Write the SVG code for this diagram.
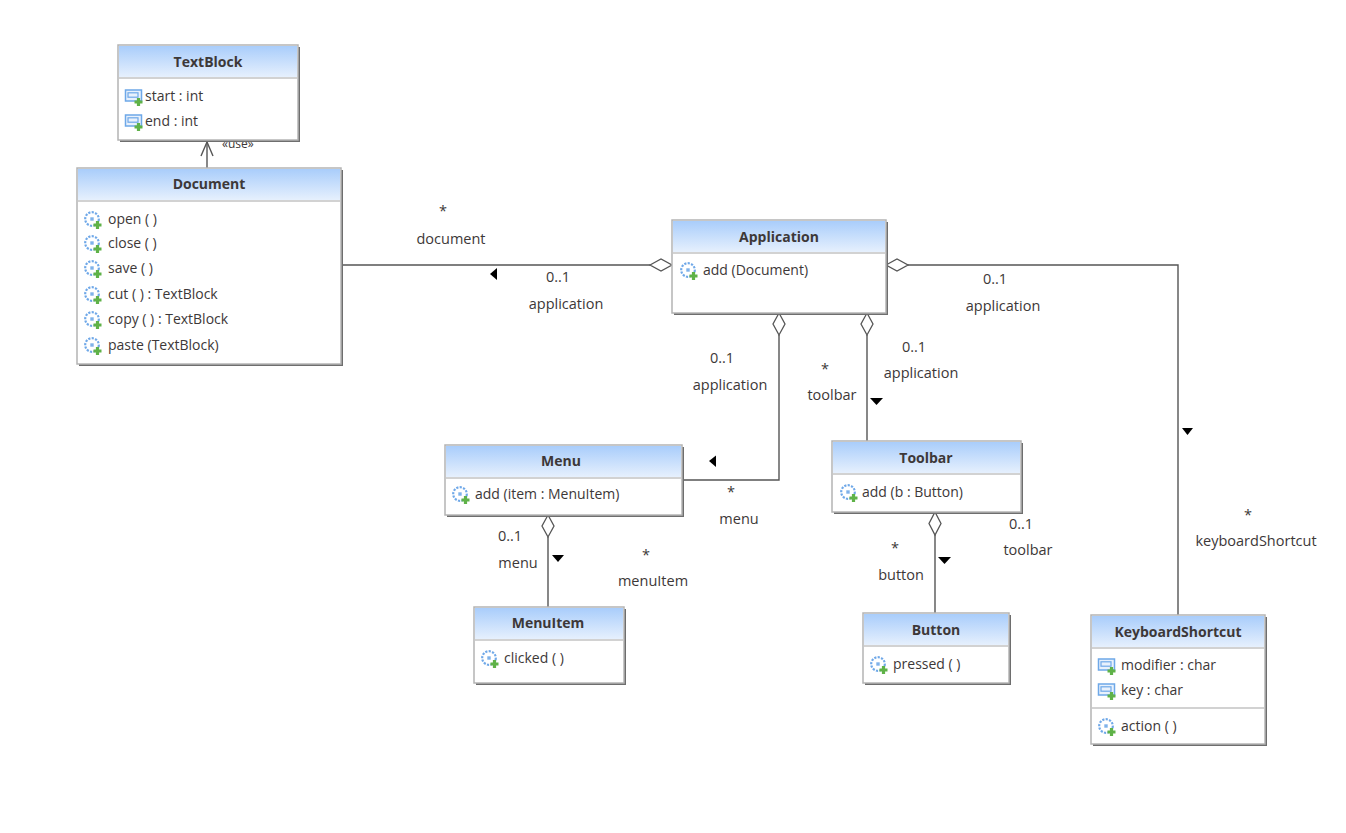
<svg xmlns="http://www.w3.org/2000/svg" width="1346" height="833" viewBox="0 0 1346 833">
<style>
.box{fill:#fff;stroke:#b4b4b4;stroke-width:1.5}
.sh{fill:#6e6e6e}
.hdr{fill:url(#hg)}
.sep{stroke:#d2d2d2;stroke-width:2}
.ttl{font-family:"Open Sans","Noto Sans",sans-serif;font-size:14px;font-weight:bold;fill:#3d3838;text-anchor:middle}
.m{font-family:"Open Sans","Noto Sans",sans-serif;font-size:14px;fill:#3d3838}
.l{font-family:"Open Sans","Noto Sans",sans-serif;font-size:14.5px;fill:#3d3838;text-anchor:middle}
.ln{fill:none;stroke:#555;stroke-width:1.4}
.dia{fill:#fff;stroke:#555;stroke-width:1.3}
.tri{fill:#000}
</style>
<defs>
<linearGradient id="hg" x1="0" y1="0" x2="0" y2="1">
<stop offset="0" stop-color="#a9cdfb"/>
<stop offset="1" stop-color="#e6f0fd"/>
</linearGradient>
<g id="op">
<circle cx="8" cy="8" r="6.8" fill="none" stroke="#6fa8e8" stroke-width="2.2" stroke-dasharray="2.2 1.3"/>
<rect x="6.3" y="6.3" width="3.4" height="3.4" fill="#7fb2ea"/>
<path d="M13.5 10v8M9.5 14h8" stroke="#5fb248" stroke-width="3.2"/>
</g>
<g id="at">
<rect x="0.5" y="2" width="16" height="11" fill="#e8f1fc" stroke="#6ea8e8" stroke-width="1.5"/>
<rect x="3" y="4.8" width="10" height="4.4" fill="none" stroke="#6ea8e8" stroke-width="1.2"/>
<path d="M13.5 10v8M9.5 14h8" stroke="#5fb248" stroke-width="3.2"/>
</g>
</defs>
<rect width="1346" height="833" fill="#fff"/>

<g id="connectors">
<path class="ln" d="M207 168V142"/>
<path class="ln" d="M201 156L207 142L213 156"/>
<text x="222" y="148" font-family="Open Sans,sans-serif" font-size="12" fill="#3d3838">«use»</text>

<path class="ln" d="M341 265H650"/>
<path class="dia" d="M650 265L661 259L672 265L661 271Z"/>
<path class="tri" d="M490 274L497 268L497 280Z"/>

<path class="ln" d="M908 265H1178V615"/>
<path class="dia" d="M886 265L897 259L908 265L897 271Z"/>
<path class="tri" d="M1182 428H1193L1187.5 435Z"/>

<path class="ln" d="M779 335V480H682"/>
<path class="dia" d="M779 313L785 324L779 335L773 324Z"/>
<path class="tri" d="M709 461L716 455.5V467Z"/>

<path class="ln" d="M867 335V441"/>
<path class="dia" d="M867 313L873 324L867 335L861 324Z"/>
<path class="tri" d="M870 398H883L876.5 405Z"/>

<path class="ln" d="M548 537V607"/>
<path class="dia" d="M548 515L554 526L548 537L542 526Z"/>
<path class="tri" d="M552 555H564L558 562Z"/>

<path class="ln" d="M935 535V613"/>
<path class="dia" d="M935 512L941 523.5L935 535L929 523.5Z"/>
<path class="tri" d="M938 557H951L944.5 564Z"/>

<text class="l" x="443" y="216">*</text>
<text class="l" x="451" y="244">document</text>
<text class="l" x="558" y="282">0..1</text>
<text class="l" x="566" y="309">application</text>
<text class="l" x="995" y="284">0..1</text>
<text class="l" x="1003" y="311">application</text>
<text class="l" x="1248" y="520">*</text>
<text class="l" x="1256" y="546">keyboardShortcut</text>
<text class="l" x="722" y="363">0..1</text>
<text class="l" x="730" y="390">application</text>
<text class="l" x="731" y="497">*</text>
<text class="l" x="739" y="524">menu</text>
<text class="l" x="825" y="374">*</text>
<text class="l" x="832" y="400">toolbar</text>
<text class="l" x="914" y="352">0..1</text>
<text class="l" x="921" y="378">application</text>
<text class="l" x="510" y="541">0..1</text>
<text class="l" x="518" y="568">menu</text>
<text class="l" x="646" y="560">*</text>
<text class="l" x="653" y="586">menuItem</text>
<text class="l" x="895" y="553">*</text>
<text class="l" x="901" y="580">button</text>
<text class="l" x="1021" y="529">0..1</text>
<text class="l" x="1028" y="555">toolbar</text>
</g>

<g id="TextBlock">
<rect class="sh" x="120" y="47" width="180" height="95"/>
<rect class="box" x="118" y="45" width="180" height="95"/>
<rect class="hdr" x="119" y="46" width="178" height="31"/>
<line class="sep" x1="119" y1="78" x2="297" y2="78"/>
<text class="ttl" x="208" y="67">TextBlock</text>
<use href="#at" x="125" y="88"/>
<text class="m" x="145" y="101">start : int</text>
<use href="#at" x="125" y="113"/>
<text class="m" x="145" y="126">end : int</text>
</g>

<g id="Document">
<rect class="sh" x="79" y="170" width="264" height="196"/>
<rect class="box" x="77" y="168" width="264" height="196"/>
<rect class="hdr" x="78" y="169" width="262" height="31"/>
<line class="sep" x1="78" y1="201" x2="340" y2="201"/>
<text class="ttl" x="209" y="189">Document</text>
<use href="#op" x="84" y="211"/><text class="m" x="108" y="224">open ( )</text>
<use href="#op" x="84" y="235"/><text class="m" x="108" y="248">close ( )</text>
<use href="#op" x="84" y="260"/><text class="m" x="108" y="273">save ( )</text>
<use href="#op" x="84" y="286"/><text class="m" x="108" y="299">cut ( ) :  TextBlock</text>
<use href="#op" x="84" y="311"/><text class="m" x="108" y="324">copy ( ) :  TextBlock</text>
<use href="#op" x="84" y="337"/><text class="m" x="108" y="350">paste (TextBlock)</text>
</g>

<g id="Application">
<rect class="sh" x="674" y="222" width="214" height="93"/>
<rect class="box" x="672" y="220" width="214" height="93"/>
<rect class="hdr" x="673" y="221" width="212" height="31"/>
<line class="sep" x1="673" y1="253" x2="885" y2="253"/>
<text class="ttl" x="779" y="242">Application</text>
<use href="#op" x="680" y="262"/><text class="m" x="703" y="275">add (Document)</text>
</g>

<g id="Menu">
<rect class="sh" x="447" y="447" width="237" height="70"/>
<rect class="box" x="445" y="445" width="237" height="70"/>
<rect class="hdr" x="446" y="446" width="235" height="31"/>
<line class="sep" x1="446" y1="478" x2="681" y2="478"/>
<text class="ttl" x="561" y="466">Menu</text>
<use href="#op" x="452" y="486"/><text class="m" x="475" y="499">add (item : MenuItem)</text>
</g>

<g id="MenuItem">
<rect class="sh" x="476" y="609" width="150" height="76"/>
<rect class="box" x="474" y="607" width="150" height="76"/>
<rect class="hdr" x="475" y="608" width="148" height="31"/>
<line class="sep" x1="475" y1="640" x2="623" y2="640"/>
<text class="ttl" x="548" y="628">MenuItem</text>
<use href="#op" x="481" y="650"/><text class="m" x="504" y="663">clicked ( )</text>
</g>

<g id="Toolbar">
<rect class="sh" x="834" y="443" width="189" height="71"/>
<rect class="box" x="832" y="441" width="189" height="71"/>
<rect class="hdr" x="833" y="442" width="187" height="31"/>
<line class="sep" x1="833" y1="474" x2="1020" y2="474"/>
<text class="ttl" x="926" y="463">Toolbar</text>
<use href="#op" x="840" y="484"/><text class="m" x="862" y="497">add (b : Button)</text>
</g>

<g id="Button">
<rect class="sh" x="865" y="615" width="146" height="70"/>
<rect class="box" x="863" y="613" width="146" height="70"/>
<rect class="hdr" x="864" y="614" width="144" height="31"/>
<line class="sep" x1="864" y1="646" x2="1008" y2="646"/>
<text class="ttl" x="936" y="635">Button</text>
<use href="#op" x="870" y="656"/><text class="m" x="893" y="669">pressed ( )</text>
</g>

<g id="KeyboardShortcut">
<rect class="sh" x="1093" y="617" width="174" height="129"/>
<rect class="box" x="1091" y="615" width="174" height="129"/>
<rect class="hdr" x="1092" y="616" width="172" height="31"/>
<line class="sep" x1="1092" y1="648" x2="1264" y2="648"/>
<text class="ttl" x="1178" y="637">KeyboardShortcut</text>
<use href="#at" x="1098" y="657"/><text class="m" x="1121" y="670">modifier : char</text>
<use href="#at" x="1098" y="682"/><text class="m" x="1121" y="695">key : char</text>
<line class="sep" x1="1092" y1="708" x2="1264" y2="708"/>
<use href="#op" x="1098" y="718"/><text class="m" x="1121" y="731">action ( )</text>
</g>
</svg>
